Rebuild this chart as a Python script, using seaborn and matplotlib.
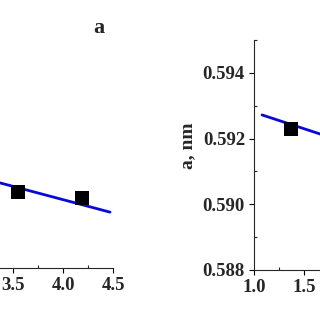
import matplotlib
matplotlib.use('Agg')
import seaborn as sns
import matplotlib.pyplot as plt
from matplotlib.ticker import MultipleLocator

# left panel (only its right part is visible)
left_pts_x = [3.55, 4.19]
left_pts_y = [0.59031, 0.59013]
left_fit_x = [3.37, 4.47]
left_fit_y = [0.59059, 0.58970]

# right panel (only its left part is visible)
right_pts_x = [1.37]
right_pts_y = [0.59229]
right_fit_x = [1.08, 1.70]
right_fit_y = [0.59272, 0.59210]

sns.set_style('ticks')
plt.rcParams['font.family'] = ['Liberation Serif', 'DejaVu Serif']
plt.rcParams['font.weight'] = 'bold'
plt.rcParams['axes.linewidth'] = 0.8

fig = plt.figure(figsize=(3.2, 3.2), dpi=100)
ax1 = fig.add_axes([-0.021875, 0.1625, 0.375, 0.71875])
ax2 = fig.add_axes([0.79375, 0.15625, 0.2125, 0.71875])

for ax, px, py, fx, fy in [
        (ax1, left_pts_x, left_pts_y, left_fit_x, left_fit_y),
        (ax2, right_pts_x, right_pts_y, right_fit_x, right_fit_y),
]:
    sns.lineplot(x=fx, y=fy, ax=ax, color='#0808d8', linewidth=2.0)
    sns.scatterplot(x=px, y=py, ax=ax, marker='s', s=100,
                    color='black', edgecolor='none', zorder=3)
    ax.set_ylim(0.588, 0.595)
    ax.yaxis.set_major_locator(MultipleLocator(0.002))
    ax.yaxis.set_minor_locator(MultipleLocator(0.001))
    ax.xaxis.set_major_locator(MultipleLocator(0.5))
    ax.xaxis.set_minor_locator(MultipleLocator(0.25))
    ax.yaxis.set_major_formatter(plt.FormatStrFormatter('%.3f'))
    ax.xaxis.set_major_formatter(plt.FormatStrFormatter('%.1f'))
    ax.tick_params(which='major', direction='out', length=3.5, width=0.8,
                   labelsize=13.5, pad=3, color='black')
    ax.tick_params(which='minor', direction='in', length=2, width=0.8)
    sns.despine(ax=ax)
    for lab in ax.get_xticklabels() + ax.get_yticklabels():
        lab.set_fontweight('bold')

# left panel: its y axis lies outside the visible area
ax1.set_xlim(3.3, 4.5)
ax1.spines['left'].set_visible(False)
ax1.tick_params(axis='y', which='both', left=False, labelleft=False)
ax1.set_title('a', loc='right', x=0.93, pad=3, fontsize=16, fontweight='bold')

# right panel: only its first part is visible
ax2.set_xlim(1.0, 1.68)
ax2.set_ylabel('a, nm', fontsize=14, fontweight='bold')
ax2.yaxis.set_label_coords(-0.853, 0.54)

fig.savefig('out.png', dpi=100)
